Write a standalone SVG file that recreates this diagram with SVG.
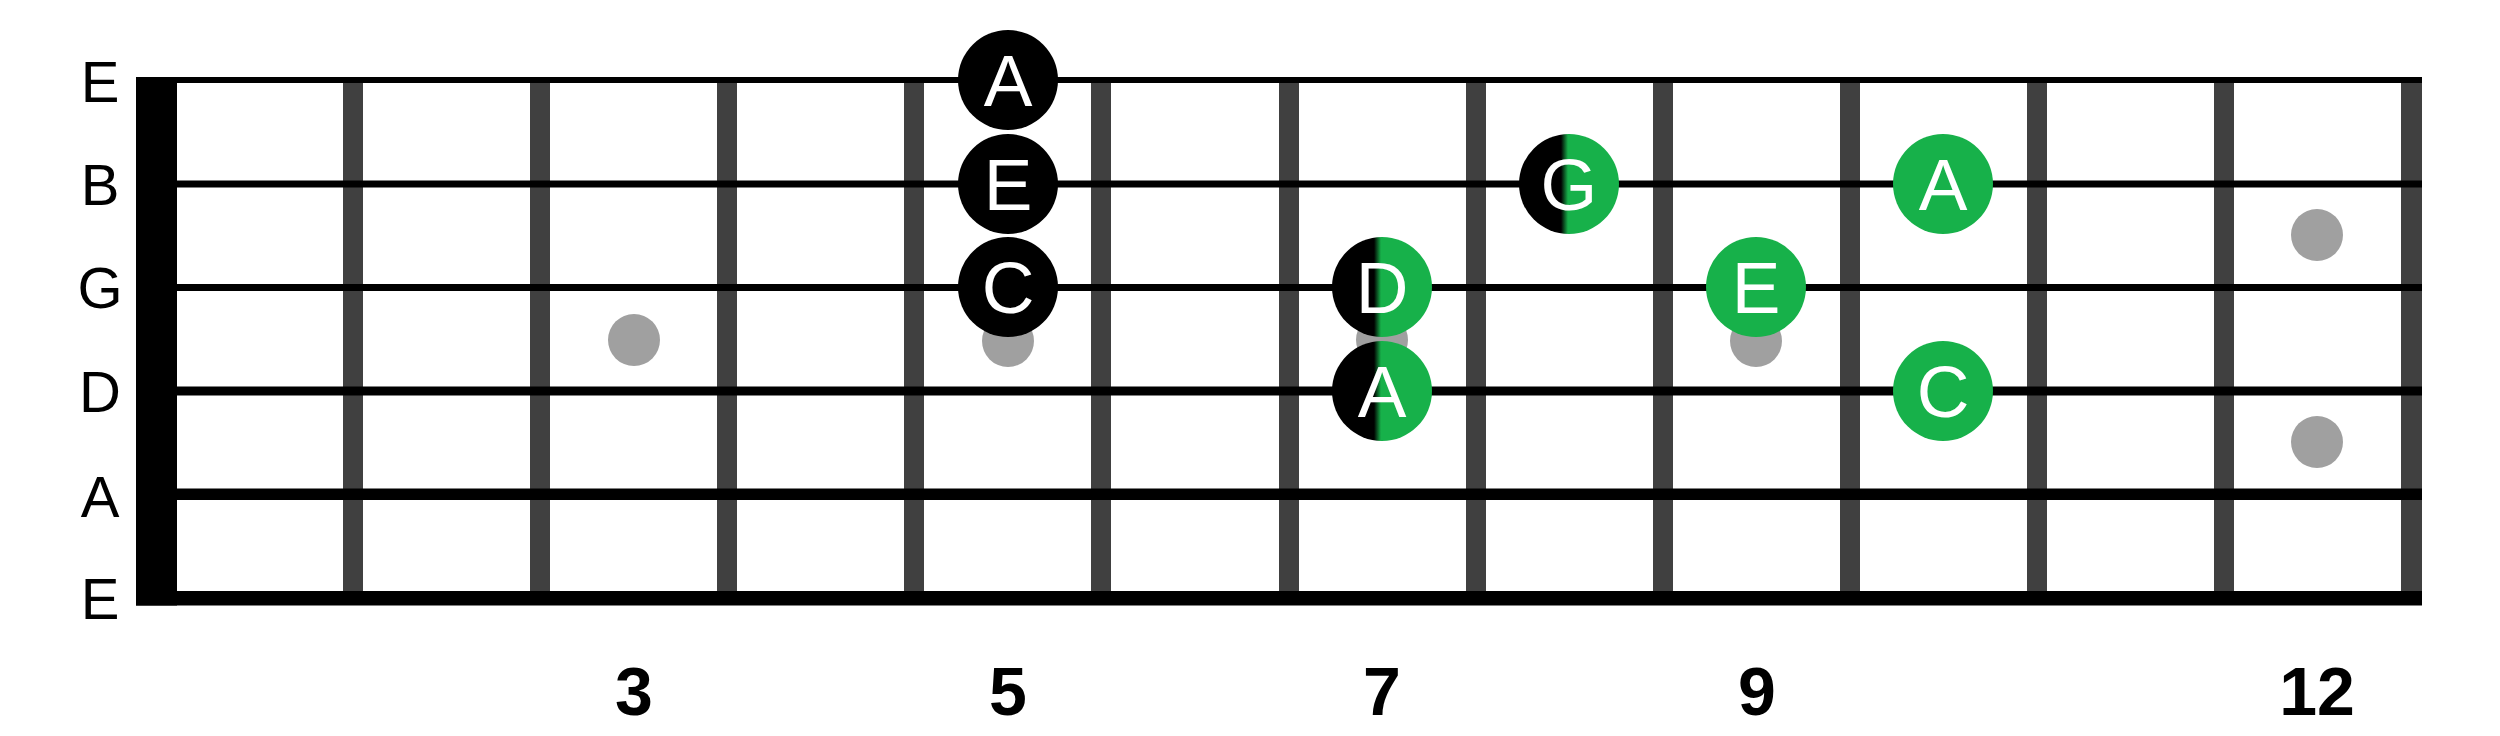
<svg xmlns="http://www.w3.org/2000/svg" width="2500" height="736" viewBox="0 0 2500 736">
  <style>
    .fret { fill: #404040; }
    .str { fill: #000000; }
    .dot { fill: #a0a0a0; }
    .blk { fill: #000000; }
    .grn { fill: #17b14a; }
    .spl { fill: url(#split); }
    .note { font-family: "Liberation Sans", Arial, sans-serif; font-size: 73px; fill: #ffffff; text-anchor: middle; }
    .lbl { font-family: "Liberation Sans", Arial, sans-serif; font-size: 58px; fill: #000000; text-anchor: middle; }
    .num { font-family: "Liberation Sans Narrow", "Liberation Sans", Arial, sans-serif; font-size: 68px; font-weight: bold; fill: #000000; text-anchor: middle; }
  </style>
  <defs>
    <linearGradient id="split" x1="0" y1="0" x2="1" y2="0">
      <stop offset="0.42" stop-color="#000000"/>
      <stop offset="0.49" stop-color="#17b14a"/>
    </linearGradient>
  </defs>
  <rect width="2500" height="736" fill="#ffffff"/>

  <g id="frets">
    <rect class="fret" x="343" y="80" width="20" height="518"/>
    <rect class="fret" x="530" y="80" width="20" height="518"/>
    <rect class="fret" x="717" y="80" width="20" height="518"/>
    <rect class="fret" x="904" y="80" width="20" height="518"/>
    <rect class="fret" x="1091" y="80" width="20" height="518"/>
    <rect class="fret" x="1279" y="80" width="20" height="518"/>
    <rect class="fret" x="1466" y="80" width="20" height="518"/>
    <rect class="fret" x="1653" y="80" width="20" height="518"/>
    <rect class="fret" x="1840" y="80" width="20" height="518"/>
    <rect class="fret" x="2027" y="80" width="20" height="518"/>
    <rect class="fret" x="2214" y="80" width="20" height="518"/>
    <rect class="fret" x="2401" y="80" width="21" height="518"/>
  </g>

  <g id="strings">
    <rect class="str" x="136" y="77" width="2286" height="6"/>
    <rect class="str" x="136" y="180.5" width="2286" height="7"/>
    <rect class="str" x="136" y="284" width="2286" height="7"/>
    <rect class="str" x="136" y="386.5" width="2286" height="9"/>
    <rect class="str" x="136" y="488.5" width="2286" height="11.5"/>
    <rect class="str" x="136" y="591" width="2286" height="14.5"/>
  </g>

  <g id="nut">
    <rect class="blk" x="136" y="77" width="41" height="528.5"/>
  </g>

  <g id="string-labels">
    <text class="lbl" x="100" y="102">E</text>
    <text class="lbl" x="100" y="205">B</text>
    <text class="lbl" x="100" y="308">G</text>
    <text class="lbl" x="100" y="412">D</text>
    <text class="lbl" x="100" y="517">A</text>
    <text class="lbl" x="100" y="619">E</text>
  </g>

  <g id="inlays">
    <circle class="dot" cx="634" cy="340" r="26"/>
    <circle class="dot" cx="1008" cy="341" r="26"/>
    <circle class="dot" cx="1382" cy="340" r="26"/>
    <circle class="dot" cx="1756" cy="341" r="26"/>
    <circle class="dot" cx="2317" cy="235" r="26"/>
    <circle class="dot" cx="2317" cy="442" r="26"/>
  </g>

  <g id="note-A-e5">
    <circle class="blk" cx="1008" cy="80" r="50"/>
    <text class="note" x="1008" y="106">A</text>
  </g>
  <g id="note-E-b5">
    <circle class="blk" cx="1008" cy="184" r="50"/>
    <text class="note" x="1008" y="210">E</text>
  </g>
  <g id="note-C-g5">
    <circle class="blk" cx="1008" cy="287" r="50"/>
    <text class="note" x="1008" y="313">C</text>
  </g>
  <g id="note-D-g7">
    <circle class="spl" cx="1382" cy="287" r="50"/>
    <text class="note" x="1382" y="313">D</text>
  </g>
  <g id="note-A-d7">
    <circle class="spl" cx="1382" cy="391" r="50"/>
    <text class="note" x="1382" y="417">A</text>
  </g>
  <g id="note-G-b8">
    <circle class="spl" cx="1569" cy="184" r="50"/>
    <text class="note" x="1569" y="210">G</text>
  </g>
  <g id="note-E-g9">
    <circle class="grn" cx="1756" cy="287" r="50"/>
    <text class="note" x="1756" y="313">E</text>
  </g>
  <g id="note-A-b10">
    <circle class="grn" cx="1943" cy="184" r="50"/>
    <text class="note" x="1943" y="210">A</text>
  </g>
  <g id="note-C-d10">
    <circle class="grn" cx="1943" cy="391" r="50"/>
    <text class="note" x="1943" y="417">C</text>
  </g>

  <g id="fret-numbers">
    <text class="num" x="634" y="715">3</text>
    <text class="num" x="1008" y="715">5</text>
    <text class="num" x="1382" y="715">7</text>
    <text class="num" x="1757" y="715">9</text>
    <text class="num" x="2317" y="715">12</text>
  </g>
</svg>
